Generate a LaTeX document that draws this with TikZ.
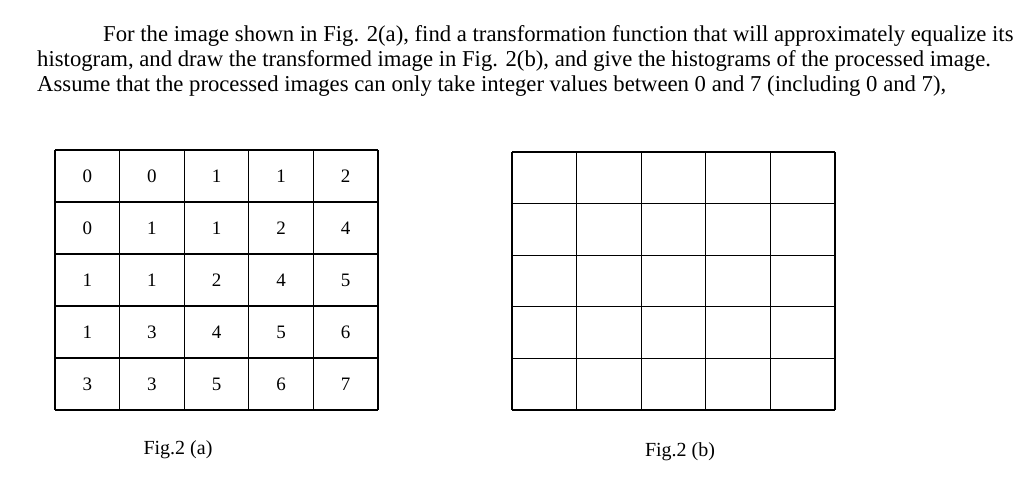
\documentclass[tikz,border=0pt]{standalone}
\usepackage{fontspec}
\setmainfont{Liberation Serif}
\begin{document}
\begin{tikzpicture}[x=1pt,y=-1pt,
  txt/.style={anchor=base west,inner sep=0,font=\fontsize{22.7}{26}\selectfont},
  cell/.style={font=\fontsize{19}{21}\selectfont,inner sep=0},
  figcap/.style={font=\fontsize{20}{22}\selectfont,inner sep=0},
  gridline/.style={line width=1.3pt}]
\useasboundingbox (0,0) rectangle (1024,476);
\node[txt] (l1) at (103,42) {For the image shown in Fig. 2(a), find a transformation function that will approximately equalize its};
\node[txt] (l2) at (37,67) {histogram, and draw the transformed image in Fig. 2(b), and give the histograms of the processed image.};
\node[txt] (l3) at (37,92) {Assume that the processed images can only take integer values between 0 and 7 (including 0 and 7),};
% grid a
\foreach \k in {0,...,5}{
  \draw[gridline] ({55+64.6*\k},150) -- ({55+64.6*\k},410);
  \draw[gridline] (55,{150+52*\k}) -- (378,{150+52*\k});
}
\foreach \r [count=\i from 0] in {{0,0,1,1,2},{0,1,1,2,4},{1,1,2,4,5},{1,3,4,5,6},{3,3,5,6,7}}{
  \foreach \v [count=\j from 0] in \r {
    \node[cell] (a\i\j) at ({55+32.3+64.6*\j},{150+26+52*\i}) {\v};
  }
}
% grid b
\foreach \k in {0,...,5}{
  \draw[gridline] ({512+64.6*\k},152) -- ({512+64.6*\k},410);
  \draw[gridline] (512,{152+51.6*\k}) -- (835,{152+51.6*\k});
}
\node[figcap] (ca) at (178,450) {Fig.2 (a)};
\node[figcap] (cb) at (680,452) {Fig.2 (b)};
\end{tikzpicture}
\end{document}
